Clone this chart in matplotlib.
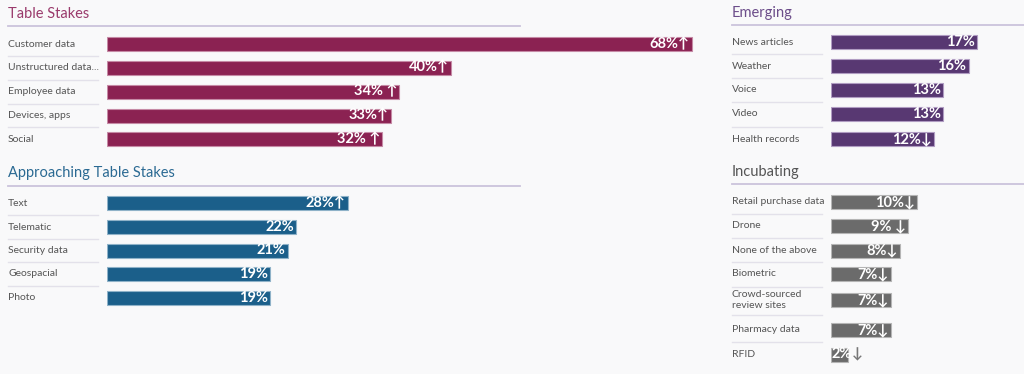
import matplotlib.pyplot as plt
from matplotlib.lines import Line2D

plt.rcParams['font.family'] = ['Lato', 'DejaVu Sans']

W, H = 1024, 374
BG = '#f9f9fa'
PX_PER_PCT = 8.6

# data
stakes_labels = ['Customer data', 'Unstructured data...', 'Employee data', 'Devices, apps', 'Social']
stakes_values = [68, 40, 34, 33, 32]
stakes_arrows = ['↑', '↑', ' ↑', '↑', ' ↑']

approach_labels = ['Text', 'Telematic', 'Security data', 'Geospacial', 'Photo']
approach_values = [28, 22, 21, 19, 19]
approach_arrows = ['↑', '', '', '', '']

emerging_labels = ['News articles', 'Weather', 'Voice', 'Video', 'Health records']
emerging_values = [17, 16, 13, 13, 12]
emerging_arrows = ['', '', '', '', '↓']

incub_labels = ['Retail purchase data', 'Drone', 'None of the above', 'Biometric',
                'Crowd-sourced\nreview sites', 'Pharmacy data', 'RFID']
incub_values = [10, 9, 8, 7, 7, 7, 2]
incub_arrows = ['↓', ' ↓', '↓', '↓', '↓', '↓', '↓']

fig = plt.figure(figsize=(W / 100, H / 100), dpi=100, facecolor=BG)


def fx(px):
    return px / W


def fy(py):
    return 1 - py / H


def panel(title, title_color, bar_color, edge_color, labels, values, arrows,
          x0, x1, title_y, line_y, bar_left, rows, ax_right, label_w=90):
    fig.text(fx(x0), fy(title_y), title, color=title_color, fontsize=10.5,
             ha='left', va='center')
    fig.add_artist(Line2D([fx(x0), fx(x1)], [fy(line_y), fy(line_y)],
                          color='#cbc3dc', lw=1.3))
    top = rows[0] - 12
    bot = rows[-1] + 12
    ax = fig.add_axes([fx(bar_left), fy(bot), fx(ax_right - bar_left), (bot - top) / H])
    ax.set_facecolor('none')
    ax.set_xlim(0, (ax_right - bar_left) / PX_PER_PCT)
    ax.set_ylim(bot, top)
    ax.barh(rows, values, height=14, color=bar_color, edgecolor=edge_color, lw=0.8)
    for i, (lab, v, a) in enumerate(zip(labels, values, arrows)):
        y = rows[i]
        ax.text((x0 - bar_left) / PX_PER_PCT, y, lab, ha='left', va='center',
                fontsize=7.5, color='#555555', linespacing=1.15)
        if i < len(rows) - 1:
            sep = (rows[i] + rows[i + 1]) / 2
            ax.plot([(x0 - bar_left) / PX_PER_PCT, (x0 + label_w - bar_left) / PX_PER_PCT],
                    [sep, sep], color='#e3e1ea', lw=1, clip_on=False)
        if v < 4:
            t = ax.text(0.05, y, f'{v}%', ha='left', va='center', color='white',
                        fontsize=10.5, fontweight='bold')
            ax.annotate(a.strip(), xy=(1, 0.5), xycoords=t, ha='left', va='center',
                        color='#777777', fontsize=10.5, fontweight='bold')
        else:
            ax.text(v - 0.25, y, f'{v}%{a}', ha='right', va='center', color='white',
                    fontsize=10.5, fontweight='bold')
    ax.axis('off')
    return ax


panel('Table Stakes', '#9a3a6c', '#8b2252', '#c58aa5', stakes_labels, stakes_values,
      stakes_arrows, 8, 520, 14, 26, 107, [44, 67.5, 91.5, 115.5, 139], 720)
panel('Approaching Table Stakes', '#2b6a93', '#1b5f8a', '#8fb2c8', approach_labels,
      approach_values, approach_arrows, 8, 520, 173, 186, 107, [203, 227, 250.5, 274, 298], 720)
panel('Emerging', '#6c4d8a', '#583872', '#b09cc2', emerging_labels, emerging_values,
      emerging_arrows, 732, 1024, 13, 25, 831, [42, 66, 89.5, 114, 139], 1024)
panel('Incubating', '#555555', '#6b6b6b', '#b5b5b5', incub_labels, incub_values,
      incub_arrows, 732, 1024, 172, 184, 831, [202, 226, 250.5, 274, 300, 330, 354.5], 1024)

fig.savefig('out.png', dpi=100, facecolor=BG)
